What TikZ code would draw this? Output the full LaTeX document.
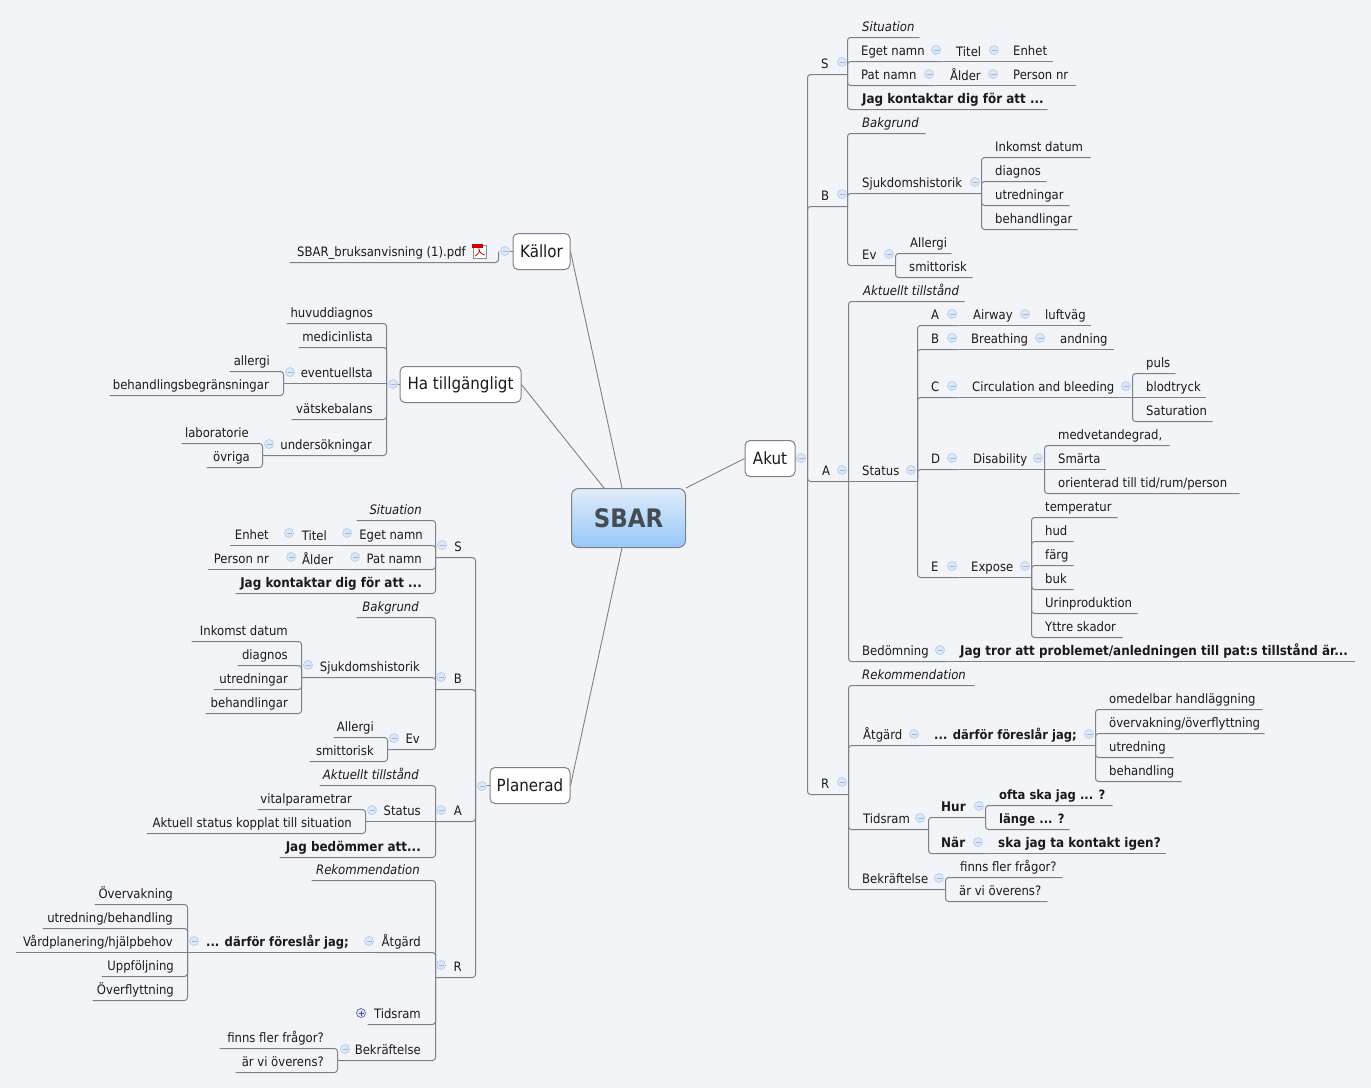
\documentclass[tikz,border=0pt]{standalone}
\usepackage{fontspec}
\setmainfont{DejaVu Sans}[FakeStretch=0.9]
\usepackage{tikz}
\usetikzlibrary{calc,positioning}
\definecolor{bgcol}{HTML}{F3F4F8}
\definecolor{linkcol}{HTML}{7E8084}
\definecolor{txtcol}{HTML}{1A1A1A}
\definecolor{foldfill}{HTML}{DCE7F7}
\definecolor{folddraw}{HTML}{B7CDEB}
\definecolor{foldbar}{HTML}{9DB8DC}
\definecolor{roottop}{HTML}{E0ECFB}
\definecolor{rootbot}{HTML}{96C7F8}
\definecolor{roottxt}{HTML}{444C54}
\tikzset{
 link/.style={draw=linkcol,line width=1pt,rounded corners=3pt},
 topic/.style={inner sep=0pt,text=txtcol,font=\fontsize{12.95}{15}\selectfont},
 btopic/.style={topic,font=\fontsize{13.3}{15}\selectfont\bfseries},
 dtopic/.style={topic,font=\fontsize{12.85}{15}\selectfont\bfseries},
 itopic/.style={topic,font=\fontsize{13}{15}\selectfont\itshape},
 mainbox/.style={draw=linkcol,fill=white,rounded corners=5pt,line width=1pt,inner sep=0pt,text=txtcol,font=\fontsize{16.8}{20}\selectfont},
 fold/.style={circle,draw=folddraw,fill=foldfill,line width=0.7pt,minimum size=9pt,inner sep=0pt,
  path picture={\draw[foldbar,line width=0.8pt] ([xshift=-2.5pt]path picture bounding box.center) -- ([xshift=2.5pt]path picture bounding box.center);}},
 foldplus/.style={circle,draw=black!55!blue!60,fill=foldfill,line width=0.7pt,minimum size=9pt,inner sep=0pt,
  path picture={\draw[black!60!blue!70,line width=0.7pt] ([xshift=-2.5pt]path picture bounding box.center) -- ([xshift=2.5pt]path picture bounding box.center);
  \draw[black!60!blue!70,line width=0.7pt] ([yshift=-2.5pt]path picture bounding box.center) -- ([yshift=2.5pt]path picture bounding box.center);}}
}
% name, text x, line y, far end x, text
\newcommand{\rtopic}[6][topic]{\node[#1,anchor=base west] (#2) at (#3,#4-6) {#6}; \coordinate (#2-b) at (#5-0.5,#4+0.5);}
\newcommand{\ltopic}[6][topic]{\node[#1,anchor=base east] (#2) at (#3,#4-6) {#6}; \coordinate (#2-b) at (#5-0.5,#4+0.5);}
\newcommand{\branch}[2]{\foreach \c in {#2} \draw[link] (#1-b) |- (\c-b);}
\newcommand{\chain}[2]{\draw[link] (#1-b) -- (#2-b);}
\begin{document}
\begin{tikzpicture}[x=1pt,y=-1pt]
\useasboundingbox[fill=bgcol] (0,0) rectangle (1371,1088);

\node[draw=linkcol,rounded corners=7pt,line width=1pt,top color=roottop,bottom color=rootbot,minimum width=114pt,minimum height=59pt,inner sep=0pt,text=roottxt,font=\fontsize{25.5}{28}\selectfont\bfseries] (root) at (628.5,518) {SBAR};
\node[mainbox,minimum width=50pt,minimum height=36pt] (akut) at (770,458.5) {Akut};
\node[mainbox,minimum width=57pt,minimum height=36pt] (kallor) at (541.5,251.5) {Källor};
\node[mainbox,minimum width=121pt,minimum height=36pt] (ha) at (460.5,384.5) {Ha tillgängligt};
\node[mainbox,minimum width=80pt,minimum height=36pt] (plan) at (530,785.5) {Planerad};
\coordinate (rootK) at (622,488);
\coordinate (rootH) at (604,488);
\coordinate (rootP) at (622,548);
\draw[linkcol,line width=0.9pt] (root.north east) -- (akut.west);
\draw[linkcol,line width=0.9pt] (rootK) -- (kallor.east);
\draw[linkcol,line width=0.9pt] (rootH) -- (ha.east);
\draw[linkcol,line width=0.9pt] (rootP) -- (plan.east);
\draw[linkcol,line width=0.9pt] (akut.east) -- (801,458.5);
\draw[linkcol,line width=0.9pt] (kallor.west) -- (505,251.5);
\draw[linkcol,line width=0.9pt] (ha.west) -- (393,384.5);
\draw[linkcol,line width=0.9pt] (plan.west) -- (482,785.5);

% Akut
\coordinate (akut-b) at (807.5,458);
\rtopic{aS}{821}{74}{848}{S}
\rtopic{aB}{821}{206}{848}{B}
\rtopic{aA}{822}{481}{849}{A}
\rtopic{aR}{821}{794}{849}{R}
\branch{akut}{aS,aB,aA,aR}

\rtopic[itopic]{aSsit}{862}{37}{920}{Situation}
\rtopic{aSeget}{861}{61}{944}{Eget namn}
\rtopic[topic,yshift=-1pt]{aStitel}{956}{61}{1002}{Titel}
\rtopic{aSenhet}{1013}{61}{1053}{Enhet}
\rtopic{aSpat}{861}{85}{936}{Pat namn}
\rtopic[topic,yshift=-1.5pt]{aSalder}{950}{85}{1001}{Ålder}
\rtopic{aSpers}{1013}{85}{1076}{Person nr}
\rtopic[btopic]{aSjag}{862}{109}{1048}{Jag kontaktar dig för att ...}
\branch{aS}{aSsit,aSeget,aSpat,aSjag}
\chain{aSeget}{aStitel}
\chain{aStitel}{aSenhet}
\chain{aSpat}{aSalder}
\chain{aSalder}{aSpers}

\rtopic[itopic]{aBbak}{862}{133}{926}{Bakgrund}
\rtopic{aBsjuk}{862}{193}{982}{Sjukdomshistorik}
\rtopic{aBink}{995}{157}{1091}{Inkomst datum}
\rtopic{aBdiag}{995}{181}{1047}{diagnos}
\rtopic{aButr}{995}{205}{1070}{utredningar}
\rtopic{aBbeh}{995}{229}{1078}{behandlingar}
\rtopic{aBev}{862}{265}{896}{Ev}
\rtopic{aBall}{910}{253}{952}{Allergi}
\rtopic{aBsmi}{909}{277}{973}{smittorisk}
\branch{aB}{aBbak,aBsjuk,aBev}
\branch{aBsjuk}{aBink,aBdiag,aButr,aBbeh}
\branch{aBev}{aBall,aBsmi}

\rtopic[itopic]{aAakt}{863}{301}{965}{Aktuellt tillstånd}
\rtopic{aAst}{862}{481}{918}{Status}
\rtopic{aAbed}{862}{661}{948}{Bedömning}
\rtopic[btopic]{aAjag}{960}{661}{1355}{Jag tror att problemet/anledningen till pat:s tillstånd är...}
\branch{aA}{aAakt,aAbed}
\chain{aA}{aAst}
\chain{aAbed}{aAjag}

\rtopic{aAa}{931}{325}{960}{A}
\rtopic{aAair}{973}{325}{1033}{Airway}
\rtopic{aAluf}{1045}{325}{1091}{luftväg}
\rtopic{aAb}{931}{349}{960}{B}
\rtopic{aAbre}{971}{349}{1048}{Breathing}
\rtopic{aAand}{1060}{349}{1114}{andning}
\rtopic{aAc}{931}{397}{960}{C}
\rtopic{aAcir}{972}{397}{1133}{Circulation and bleeding}
\rtopic{aApul}{1146}{373}{1176}{puls}
\rtopic{aAblo}{1146}{397}{1206}{blodtryck}
\rtopic{aAsat}{1146}{421}{1213}{Saturation}
\rtopic{aAd}{931}{469}{960}{D}
\rtopic{aAdis}{973}{469}{1045}{Disability}
\rtopic{aAmed}{1058}{445}{1170}{medvetandegrad,}
\rtopic{aAsma}{1058}{469}{1106}{Smärta}
\rtopic{aAori}{1058}{493}{1240}{orienterad till tid/rum/person}
\rtopic{aAe}{931}{577}{960}{E}
\rtopic{aAexp}{971}{577}{1032}{Expose}
\rtopic{aAtem}{1045}{517}{1118}{temperatur}
\rtopic{aAhud}{1045}{541}{1074}{hud}
\rtopic{aAfar}{1045}{565}{1074}{färg}
\rtopic{aAbuk}{1045}{589}{1074}{buk}
\rtopic{aAuri}{1045}{613}{1138}{Urinproduktion}
\rtopic{aAytt}{1045}{637}{1123}{Yttre skador}
\branch{aAst}{aAa,aAb,aAc,aAd,aAe}
\chain{aAa}{aAair}
\chain{aAair}{aAluf}
\chain{aAb}{aAbre}
\chain{aAbre}{aAand}
\chain{aAc}{aAcir}
\branch{aAcir}{aApul,aAsat}
\chain{aAcir}{aAblo}
\chain{aAd}{aAdis}
\branch{aAdis}{aAmed,aAori}
\chain{aAdis}{aAsma}
\chain{aAe}{aAexp}
\branch{aAexp}{aAtem,aAhud,aAfar,aAbuk,aAuri,aAytt}

\rtopic[itopic]{aRrek}{862}{685}{975}{Rekommendation}
\rtopic{aRatg}{863}{745}{922}{Åtgärd}
\rtopic[dtopic]{aRdar}{934}{745}{1096}{... därför föreslår jag;}
\rtopic{aRome}{1109}{709}{1263}{omedelbar handläggning}
\rtopic{aRove}{1109}{733}{1265}{övervakning/överflyttning}
\rtopic{aRutr}{1109}{757}{1174}{utredning}
\rtopic{aRbeh}{1109}{781}{1182}{behandling}
\rtopic{aRtid}{863}{829}{929}{Tidsram}
\rtopic[btopic]{aRhur}{941}{817}{986}{Hur}
\rtopic[dtopic]{aRoft}{999}{805}{1113}{ofta ska jag ... ?}
\rtopic[dtopic]{aRlan}{999}{829}{1070}{länge ... ?}
\rtopic[btopic]{aRnar}{941}{853}{986}{När}
\rtopic[btopic]{aRska}{998}{853}{1166}{ska jag ta kontakt igen?}
\rtopic{aRbek}{862}{889}{946}{Bekräftelse}
\rtopic{aRfin}{960}{877}{1063}{finns fler frågor?}
\rtopic{aRarv}{959}{901}{1048}{är vi överens?}
\branch{aR}{aRrek,aRatg,aRtid,aRbek}
\chain{aRatg}{aRdar}
\branch{aRdar}{aRome,aRove,aRutr,aRbeh}
\branch{aRtid}{aRhur,aRnar}
\branch{aRhur}{aRoft,aRlan}
\chain{aRnar}{aRska}
\branch{aRbek}{aRfin,aRarv}

% Kallor
\coordinate (kallor-b) at (498.5,251.5);
\ltopic{kFil}{466}{262}{290}{SBAR\_bruksanvisning (1).pdf}
\branch{kallor}{kFil}
\draw[black!45,fill=white,line width=0.5pt] (473,245) rectangle (486,258);
\fill[red!80!black] (472,244) rectangle (483,248);
\draw[red!75!black,line width=0.7pt] (475,256) .. controls (479,254) and (480,251) .. (479,249) .. controls (480,253) and (482,255) .. (485,255);

% Ha tillgangligt
\coordinate (ha-b) at (386.5,383.5);
\ltopic{hHuv}{373}{323}{287}{huvuddiagnos}
\ltopic{hMed}{373}{347}{299}{medicinlista}
\ltopic{hEve}{373}{383}{284}{eventuellsta}
\ltopic{hAll}{270}{371}{230}{allergi}
\ltopic{hBeh}{269}{395}{110}{behandlingsbegränsningar}
\ltopic{hVat}{373}{419}{292}{vätskebalans}
\ltopic{hUnd}{372}{455}{263}{undersökningar}
\ltopic{hLab}{249}{443}{182}{laboratorie}
\ltopic{hOvr}{250}{467}{207}{övriga}
\branch{ha}{hHuv,hMed,hVat,hUnd}
\chain{ha}{hEve}
\branch{hEve}{hAll,hBeh}
\branch{hUnd}{hLab,hOvr}

% Planerad
\coordinate (plan-b) at (475.5,786);
\ltopic{pS}{462}{557}{436}{S}
\ltopic{pB}{462}{689}{436}{B}
\ltopic{pA}{462}{821}{436}{A}
\ltopic{pR}{462}{977}{436}{R}
\branch{plan}{pS,pB,pA,pR}

\ltopic[itopic]{pSsit}{422}{520}{357}{Situation}
\ltopic{pSeget}{423}{545}{340}{Eget namn}
\ltopic[topic,yshift=-1pt]{pStitel}{327}{545}{282}{Titel}
\ltopic{pSenhet}{269}{545}{230}{Enhet}
\ltopic{pSpat}{422}{569}{347}{Pat namn}
\ltopic[topic,yshift=-1.5pt]{pSalder}{333}{569}{283}{Ålder}
\ltopic{pSpers}{269}{569}{208}{Person nr}
\ltopic[btopic]{pSjag}{422}{593}{236}{Jag kontaktar dig för att ...}
\branch{pS}{pSsit,pSeget,pSpat,pSjag}
\chain{pSeget}{pStitel}
\chain{pStitel}{pSenhet}
\chain{pSpat}{pSalder}
\chain{pSalder}{pSpers}

\ltopic[itopic]{pBbak}{419}{617}{357}{Bakgrund}
\ltopic{pBsjuk}{420}{677}{302}{Sjukdomshistorik}
\ltopic{pBink}{288}{641}{192}{Inkomst datum}
\ltopic{pBdiag}{288}{665}{238}{diagnos}
\ltopic{pButr}{288}{689}{214}{utredningar}
\ltopic{pBbeh}{288}{713}{206}{behandlingar}
\ltopic{pBev}{420}{749}{388}{Ev}
\ltopic{pBall}{374}{737}{334}{Allergi}
\ltopic{pBsmi}{374}{761}{310}{smittorisk}
\branch{pB}{pBbak,pBsjuk,pBev}
\branch{pBsjuk}{pBink,pBdiag,pButr,pBbeh}
\branch{pBev}{pBall,pBsmi}

\ltopic[itopic]{pAakt}{419}{785}{320}{Aktuellt tillstånd}
\ltopic{pAst}{421}{821}{366}{Status}
\ltopic{pAvit}{352}{809}{258}{vitalparametrar}
\ltopic{pAakl}{352}{833}{147}{Aktuell status kopplat till situation}
\ltopic[btopic]{pAjag}{421}{857}{280}{Jag bedömmer att...}
\branch{pA}{pAakt,pAjag}
\chain{pA}{pAst}
\branch{pAst}{pAvit,pAakl}

\ltopic[itopic]{pRrek}{420}{880}{312}{Rekommendation}
\ltopic{pRatg}{421}{952}{377}{Åtgärd}
\ltopic[dtopic]{pRdar}{349}{952}{188}{... därför föreslår jag;}
\ltopic{pRove}{173}{904}{95}{Övervakning}
\ltopic{pRutr}{173}{928}{43}{utredning/behandling}
\ltopic{pRvar}{173}{952}{16}{Vårdplanering/hjälpbehov}
\ltopic{pRupp}{174}{976}{102}{Uppföljning}
\ltopic{pRoyv}{174}{1000}{93}{Överflyttning}
\ltopic{pRtid}{421}{1024}{368}{Tidsram}
\ltopic{pRbek}{421}{1060}{338}{Bekräftelse}
\ltopic{pRfin}{324}{1048}{220}{finns fler frågor?}
\ltopic{pRarv}{324}{1072}{236}{är vi överens?}
\branch{pR}{pRrek,pRatg,pRtid,pRbek}
\chain{pRatg}{pRdar}
\branch{pRdar}{pRove,pRutr,pRupp,pRoyv}
\chain{pRdar}{pRvar}
\branch{pRbek}{pRfin,pRarv}

\foreach \x/\y [count=\n] in {801/458,842/62,842/194,842/470,842/782,936/50,994/50,929/74,993/74,975/182,889/254,911/470,
 952/314,1025/314,952/338,1040/338,952/386,1126/386,952/458,1038/458,952/566,1025/566,940/650,914/734,1089/734,920/818,979/806,978/842,939/878,
 505/251,393/384,290/372,269/444,482/786,442/545,347/533,289/533,355/557,291/557,441/677,308/665,394/738,441/810,372/810,441/965,369/941,194/941,345/1049}
 \node[fold] (fold\n) at (\x,\y) {};
\node[foldplus] (foldp) at (361,1013) {};
\end{tikzpicture}
\end{document}
